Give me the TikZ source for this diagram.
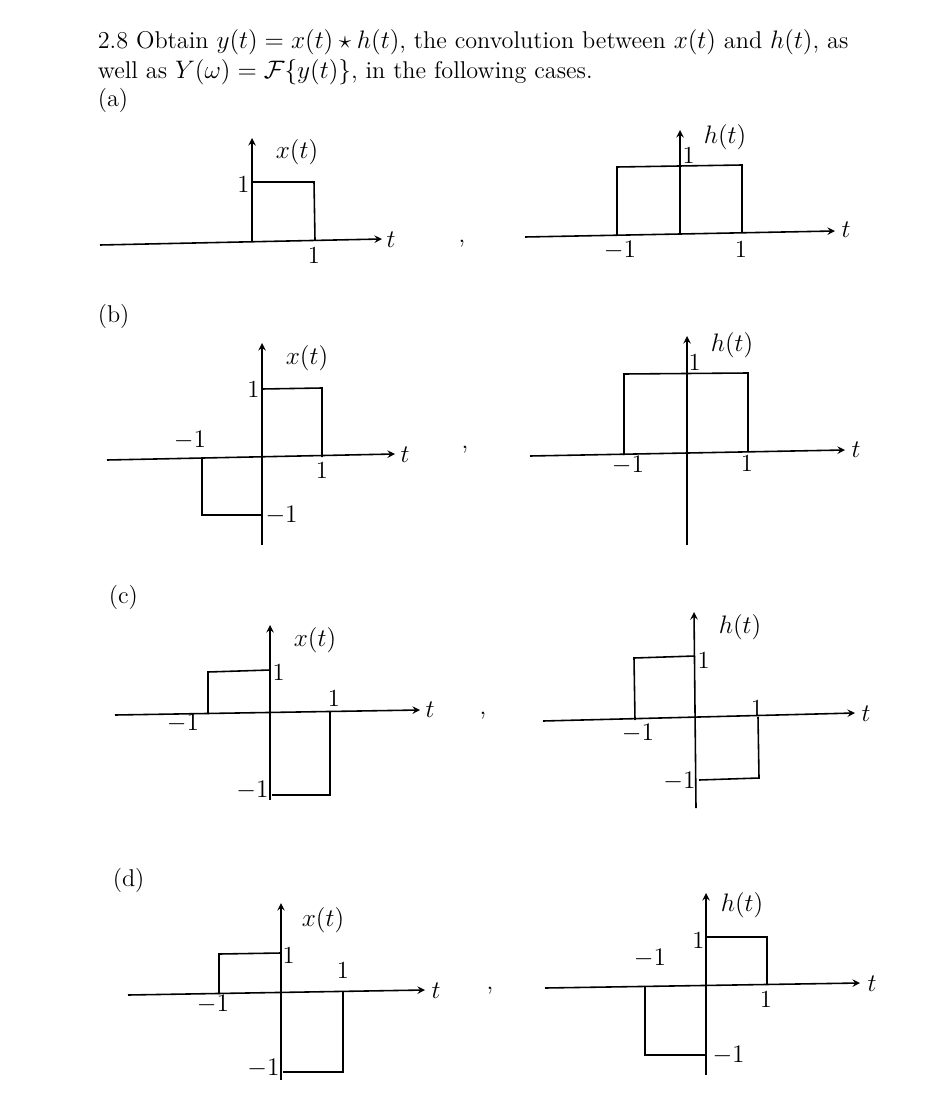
\documentclass[tikz,border=0pt]{standalone}
\begin{document}
\begin{tikzpicture}[x=0.02cm,y=-0.02cm,line width=0.9pt,
  ax/.style={->,>=stealth},
  lb/.style={font=\fontsize{14}{16}\selectfont,inner sep=1pt},
  hd/.style={font=\fontsize{13.8}{16}\selectfont,inner sep=0pt,anchor=west}]
\useasboundingbox (0,0) rectangle (927,1111);
\node[hd] (h1) at (97,42) {2.8 Obtain $y(t)=x(t)\star h(t)$, the convolution between $x(t)$ and $h(t)$, as};
\node[hd] (h2) at (97,72) {well as $Y(\omega)=\mathcal{F}\{y(t)\}$, in the following cases.};
% (a)
\node[hd] (la) at (97,100) {(a)};
\draw[ax] (100,245) -- (382,239); \node[lb] at (391,240) {$t$};
\draw[ax] (252,242) -- (252,138); \node[lb] at (297,152) {$x(t)$};
\draw (252,182) -- (314,182) -- (315,240);
\node[lb,anchor=east] at (252,184) {1}; \node[lb] at (314,255) {1};
\node[lb] at (462,244) {,};
\draw[ax] (525,237) -- (835,231); \node[lb] at (846,230) {$t$};
\draw[ax] (680,234) -- (680,130); \node[lb] at (725,137) {$h(t)$};
\draw (617,236) -- (617,167) -- (742,165) -- (742,233);
\node[lb] at (620,250) {$-1$}; \node[lb] at (741,249) {1}; \node[lb,anchor=west] at (680,155) {1};
% (b)
\node[hd] (lb0) at (97,316) {(b)};
\draw[ax] (107,460) -- (395,454); \node[lb] at (405,455) {$t$};
\draw[ax] (262,545) -- (262,343); \node[lb] at (307,358) {$x(t)$};
\draw (262,389) -- (322,388) -- (322,457);
\draw (202,458) -- (202,515) -- (262,515);
\node[lb,anchor=east] at (262,389) {1}; \node[lb] at (190,440) {$-1$};
\node[lb] at (322,470) {1}; \node[lb,anchor=west] at (263,515) {$-1$};
\node[lb] at (465,450) {,};
\draw[ax] (530,456) -- (845,450); \node[lb] at (856,450) {$t$};
\draw[ax] (687,545) -- (687,336); \node[lb] at (732,345) {$h(t)$};
\draw (624,455) -- (624,374) -- (748,373) -- (748,452);
\node[lb] at (628,465) {$-1$}; \node[lb] at (747,463) {1}; \node[lb,anchor=west] at (686,362) {1};
% (c)
\node[hd] (lc) at (108,597) {(c)};
\draw[ax] (115,715) -- (420,710); \node[lb] at (430,710) {$t$};
\draw[ax] (270,800) -- (270,625); \node[lb] at (315,640) {$x(t)$};
\draw (208,714) -- (208,672) -- (270,670);
\draw (330,711) -- (330,795) -- (272,795);
\node[lb,anchor=west] at (270,672) {1}; \node[lb] at (183,723) {$-1$};
\node[lb] at (334,698) {1}; \node[lb,anchor=east] at (271,790) {$-1$};
\node[lb] at (483,716) {,};
\draw[ax] (543,721) -- (855,713); \node[lb] at (866,714) {$t$};
\draw[ax] (696,808) -- (694,612); \node[lb] at (740,627) {$h(t)$};
\draw (635,720) -- (634,658) -- (695,656);
\draw (758,717) -- (759,778) -- (699,780);
\node[lb] at (638,733) {$-1$}; \node[lb] at (757,708) {1};
\node[lb,anchor=west] at (695,660) {1}; \node[lb,anchor=east] at (698,781) {$-1$};
% (d)
\node[hd] (ld) at (112,880) {(d)};
\draw[ax] (128,995) -- (425,990); \node[lb] at (436,991) {$t$};
\draw[ax] (281,1080) -- (281,903); \node[lb] at (323,920) {$x(t)$};
\draw (219,994) -- (219,954) -- (281,953);
\draw (343,991) -- (343,1072) -- (283,1072);
\node[lb,anchor=west] at (280,955) {1}; \node[lb] at (213,1004) {$-1$};
\node[lb] at (343,970) {1}; \node[lb,anchor=east] at (282,1068) {$-1$};
\node[lb] at (490,991) {,};
\draw[ax] (545,988) -- (860,983); \node[lb] at (872,984) {$t$};
\draw[ax] (706,1075) -- (706,893); \node[lb] at (742,905) {$h(t)$};
\draw (706,937) -- (767,937) -- (767,985);
\draw (645,987) -- (645,1055) -- (706,1055);
\node[lb,anchor=east] at (707,940) {1}; \node[lb] at (650,958) {$-1$};
\node[lb] at (766,999) {1}; \node[lb,anchor=west] at (710,1055) {$-1$};
\end{tikzpicture}
\end{document}
